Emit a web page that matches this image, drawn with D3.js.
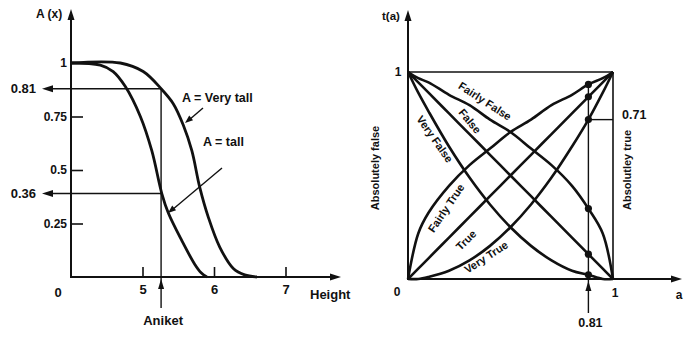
<!DOCTYPE html>
<html>
<head>
<meta charset="utf-8">
<script src="https://cdn.jsdelivr.net/npm/d3@7"></script>
<style>
body { margin: 0; background: #fff; }
svg text { font-family: "Liberation Sans", Arial, sans-serif; font-weight: bold; fill: #111; }
</style>
</head>
<body>
<svg id="chart"></svg>
<script>
// ---- left panel: A(x) for heights ----
const heightTicks = [5, 6, 7];
const memberTicks = [0.25, 0.5, 0.75, 1];
const tallX = [4.0, 4.41, 4.59, 4.76, 4.97, 5.13, 5.27, 5.36, 5.55, 5.73, 5.82, 5.90];
const tallY = [1, 0.99, 0.96, 0.89, 0.75, 0.59, 0.39, 0.30, 0.17, 0.06, 0.02, 0];
const veryTallX = [4.0, 4.69, 5.01, 5.26, 5.43, 5.57, 5.69, 5.80, 5.92, 6.08, 6.27, 6.43, 6.60];
const veryTallY = [1, 1, 0.96, 0.88, 0.81, 0.71, 0.59, 0.42, 0.28, 0.14, 0.04, 0.01, 0];
const aniket = 5.26;
const readValues = [0.88, 0.39];      // where the arrows sit in the picture
const readLabels = ["0.81", "0.36"];

// ---- right panel: truth qualifiers t(a) ----
const aGrid = [0, 0.05, 0.1, 0.2, 0.3, 0.4, 0.5, 0.6, 0.7, 0.8, 0.88, 0.95, 1];
const fairlyTrue  = [0, 0.22, 0.32, 0.45, 0.55, 0.63, 0.71, 0.77, 0.84, 0.89, 0.94, 0.97, 1];
const trueT       = [0, 0.05, 0.1, 0.2, 0.3, 0.4, 0.5, 0.6, 0.7, 0.8, 0.88, 0.95, 1];
const veryTrue    = [0, 0.0, 0.01, 0.04, 0.09, 0.16, 0.25, 0.36, 0.49, 0.64, 0.77, 0.9, 1];
const falseT      = [1, 0.95, 0.9, 0.8, 0.7, 0.6, 0.5, 0.4, 0.3, 0.2, 0.12, 0.05, 0];
const fairlyFalse = [1, 0.97, 0.95, 0.89, 0.84, 0.77, 0.71, 0.63, 0.55, 0.45, 0.34, 0.22, 0];
const veryFalse   = [1, 0.9, 0.81, 0.64, 0.49, 0.36, 0.25, 0.16, 0.09, 0.04, 0.02, 0.0, 0];
const aMark = 0.88, aMarkLabel = "0.81";
const tMarkLabel = "0.71";

const ink = "#111";
const svg = d3.select("#chart").attr("width", 685).attr("height", 341);

// filled triangle, tip at (x,y), angle 0 = pointing right
function arrow(x, y, angle, len = 10, half = 3.5) {
    svg.append("path")
        .attr("d", `M0,0L${-len},${-half}L${-len},${half}Z`)
        .attr("transform", `translate(${x},${y}) rotate(${angle})`)
        .attr("fill", ink);
}
function seg(x1, y1, x2, y2, w) {
    svg.append("line")
        .attr("x1", x1).attr("y1", y1).attr("x2", x2).attr("y2", y2)
        .attr("stroke", ink).attr("stroke-width", w);
}
function label(txt, x, y, size, anchor = "start", rot = 0) {
    svg.append("text")
        .attr("transform", `translate(${x},${y}) rotate(${rot})`)
        .attr("text-anchor", anchor)
        .attr("dominant-baseline", "central")
        .style("font-size", size + "px")
        .text(txt);
}
function boldTicks(g, size) {
    g.selectAll("text").style("font-size", size + "px").attr("fill", ink)
        .style("font-family", "'Liberation Sans', Arial, sans-serif").style("font-weight", "bold");
}

// ======== left chart ========
const xL = d3.scaleLinear().domain([4, 7.8]).range([71, 342.7]);
const yL = d3.scaleLinear().domain([0, 1]).range([277, 63]);

svg.append("g").attr("transform", `translate(${xL(4)},0)`)
    .call(d3.axisLeft(yL).tickValues(memberTicks).tickSize(-12).tickSizeOuter(0).tickPadding(4)
        .tickFormat(d3.format("")))
    .call(g => g.select(".domain").remove())
    .call(g => g.selectAll(".tick line").attr("stroke", ink).attr("stroke-width", 1.6)
        .filter(d => d === 1).remove())
    .call(g => boldTicks(g, 12));

svg.append("g").attr("transform", `translate(0,${yL(0)})`)
    .call(d3.axisBottom(xL).tickValues(heightTicks).tickSize(-10).tickSizeOuter(0).tickPadding(8)
        .tickFormat(d3.format("d")))
    .call(g => g.select(".domain").remove())
    .call(g => g.selectAll(".tick line").attr("stroke", ink).attr("stroke-width", 1.6))
    .call(g => boldTicks(g, 13));

seg(xL(4), yL(0) + 1, xL(4), 18, 2);
arrow(xL(4), 9, -90, 11, 3.5);
seg(xL(4), yL(0), 332, yL(0), 2);
arrow(341, yL(0), 0, 11, 3.5);

label("A (x)", 36, 14, 12);
label("0", 58, 292, 13, "middle");
label("Height", 310, 294, 13);

const lineL = d3.line().x(d => xL(d[0])).y(d => yL(d[1])).curve(d3.curveCatmullRom.alpha(0.5));
svg.append("path").datum(tallX.map((x, i) => [x, tallY[i]]))
    .attr("d", lineL).attr("fill", "none").attr("stroke", ink).attr("stroke-width", 2.8);
svg.append("path").datum(veryTallX.map((x, i) => [x, veryTallY[i]]))
    .attr("d", lineL).attr("fill", "none").attr("stroke", ink).attr("stroke-width", 2.8);

// reading arrows
readValues.forEach((v, i) => {
    seg(xL(aniket), yL(v), 50, yL(v), 1.4);
    arrow(42, yL(v), 180, 11, 3.5);
    label(readLabels[i], 36, yL(v), 13, "end");
});
seg(xL(aniket), yL(readValues[0]), xL(aniket), 308, 1.4);
arrow(xL(aniket), yL(0) + 2, -90, 10, 3);
label("Aniket", xL(aniket) + 2, 320, 13, "middle");

label("A = Very tall", 182, 98, 12.5);
seg(203, 108, 189, 120, 1.4);
arrow(185, 123, 140, 8, 3);
label("A =  tall", 203, 142, 12.5);
seg(222, 168, 172, 210, 1.4);
arrow(168, 213, 140, 8, 3);

// ======== right chart ========
const xR = d3.scaleLinear().domain([0, 1]).range([408, 613]);
const yR = d3.scaleLinear().domain([0, 1]).range([279, 72]);

seg(xR(0), yR(0) + 1, xR(0), 20, 2);
arrow(xR(0), 10, -90, 11, 3.5);
seg(xR(0), yR(0), 672, yR(0), 2);
arrow(682, yR(0), 0, 11, 3.5);
seg(xR(0), yR(1), xR(1), yR(1), 1.6);
seg(xR(1), yR(1), xR(1), yR(0), 1.6);

label("t(a)", 382, 16, 11.5);
label("1", 398, yR(1), 12, "middle");
label("0", 397, 292, 12, "middle");
label("1", xR(1) + 2, 293, 12, "middle");
label("a", 679, 295, 12, "middle");
label("Absolutely false", 375, 168, 11, "middle", -90);
label("Absolutley true", 627, 170, 11, "middle", -90);

const curves = [fairlyTrue, trueT, veryTrue, falseT, fairlyFalse, veryFalse];
const lineR = d3.line().x((d, i) => xR(aGrid[i])).y(d => yR(d)).curve(d3.curveCatmullRom.alpha(0.5));
curves.forEach(c => {
    svg.append("path").datum(c).attr("d", lineR)
        .attr("fill", "none").attr("stroke", ink).attr("stroke-width", 2.6);
});

// curve names, laid along the curves
const curveNames = [
    ["Fairly False", 485, 101, 33],
    ["False", 470, 121, 50],
    ["Very False", 435, 139, 55],
    ["Fairly True", 446, 208, -56],
    ["True", 466, 240, -45],
    ["Very True", 486, 257, -33]
];
curveNames.forEach(([t, x, y, r]) => label(t, x, y, 11, "middle", r));

// reading at a = 0.81
const k = aGrid.indexOf(aMark);
const xm = xR(aMark);
seg(xm, yR(fairlyTrue[k]), xm, 313, 1.4);
arrow(xm, yR(0) + 2, -90, 10, 3);
label(aMarkLabel, xm + 2, 323, 12.5, "middle");
seg(xm, yR(veryTrue[k]), xR(1), yR(veryTrue[k]), 1.4);
label(tMarkLabel, 622, 115, 12.5);

svg.selectAll("circle.dot").data(curves.map(c => c[k])).join("circle")
    .attr("class", "dot")
    .attr("cx", xm).attr("cy", d => yR(d)).attr("r", 3.6).attr("fill", ink);
</script>
</body>
</html>
